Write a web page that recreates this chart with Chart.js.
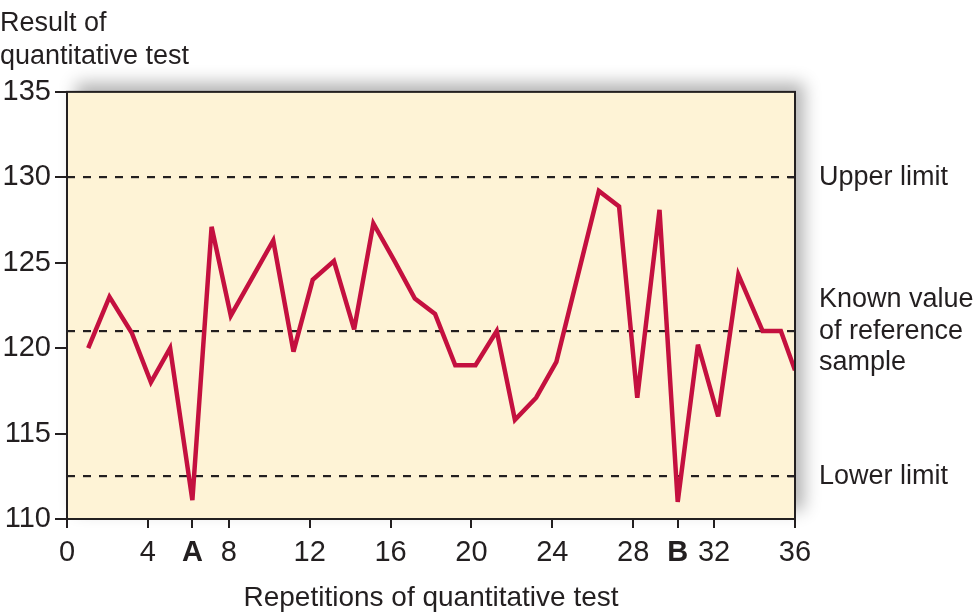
<!DOCTYPE html>
<html>
<head>
<meta charset="utf-8">
<script src="https://cdn.jsdelivr.net/npm/chart.js@4.4.1/dist/chart.umd.min.js"></script>
<style>
  html, body { margin: 0; padding: 0; background: #ffffff; }
</style>
</head>
<body>
<canvas id="c" width="976" height="615"></canvas>
<script>
// ---- data ----
const repetitions = [1.05, 2.1, 3.2, 4.15, 5.1, 6.2, 7.15, 8.1, 9.15, 10.2, 11.2, 12.15, 13.2, 14.2, 15.15, 16.2, 17.2, 18.2,
                     19.2, 20.2, 21.25, 22.15, 23.2, 24.2, 25.25, 26.3, 27.3, 28.2, 29.3, 30.2, 31.2, 32.2, 33.2, 34.4, 35.3, 36];
const results = [120, 123, 120.9, 118, 120, 111.1, 127.1, 121.9, 124.1, 126.3, 119.8, 124, 125.1, 121.1, 127.3, 125.1, 122.9, 122,
                 119, 119, 121, 115.8, 117.1, 119.2, 124.2, 129.2, 128.3, 117.1, 128.1, 111, 120.2, 116, 124.3, 121, 121, 118.7];
const xTickValues = [0, 4, 6.2, 8, 12, 16, 20, 24, 28, 30.2, 32, 36];
const xTickLabels = ['0', '4', 'A', '8', '12', '16', '20', '24', '28', 'B', '32', '36'];
const yTickValues = [110, 115, 120, 125, 130, 135];
const limitValues = [130, 121, 112.5];
const limitLabels = [['Upper limit'], ['Known value', 'of reference', 'sample'], ['Lower limit']];
const yTitle = ['Result of', 'quantitative test'];
const xTitle = 'Repetitions of quantitative test';

const FONT = '"Liberation Sans", Arial, sans-serif';
const INK = '#231f20';
const CREAM = '#fef3d6';
const RED = '#c4103f';

const frame = {
  id: 'frame',
  beforeDraw(chart) {
    const { ctx, chartArea: a } = chart;
    ctx.save();
    ctx.shadowColor = 'rgba(0,0,0,0.3)';
    ctx.shadowBlur = 16;
    ctx.shadowOffsetX = 9;
    ctx.shadowOffsetY = -9;
    ctx.fillStyle = CREAM;
    ctx.fillRect(a.left, a.top, a.right - a.left, a.bottom - a.top);
    ctx.restore();
  },
  beforeDatasetsDraw(chart) {
    chart.ctx.miterLimit = 4;
  },
  afterDraw(chart) {
    const { ctx, chartArea: a } = chart;
    ctx.save();
    ctx.strokeStyle = INK;
    ctx.lineWidth = 2;
    ctx.strokeRect(a.left, a.top, a.right - a.left, a.bottom - a.top);
    // inward tick marks on the right border
    const y2 = chart.scales.y2;
    ctx.beginPath();
    limitValues.forEach(v => {
      const y = y2.getPixelForValue(v);
      ctx.moveTo(a.right - 7, y);
      ctx.lineTo(a.right, y);
    });
    ctx.stroke();
    ctx.restore();
  }
};

new Chart(document.getElementById('c'), {
  type: 'line',
  data: {
    datasets: [{
      data: repetitions.map((x, i) => ({ x: x, y: results[i] })),
      borderColor: RED,
      borderWidth: 4.5,
      borderJoinStyle: 'miter',
      pointRadius: 0,
      tension: 0,
      fill: false
    }]
  },
  options: {
    responsive: false,
    animation: false,
    devicePixelRatio: 1,
    layout: { padding: { left: 0, right: 0, top: 0, bottom: 0 } },
    plugins: {
      legend: { display: false },
      tooltip: { enabled: false },
      title: {
        display: true,
        text: yTitle,
        align: 'start',
        color: INK,
        font: { family: FONT, size: 27, weight: 'normal', lineHeight: 1.22 },
        padding: { top: 7, bottom: 19 }
      }
    },
    scales: {
      x: {
        type: 'linear',
        min: 0,
        max: 36,
        afterBuildTicks: s => { s.ticks = xTickValues.map(v => ({ value: v })); },
        afterFit: s => { s.height = 96; },
        ticks: {
          autoSkip: false,
          maxRotation: 0,
          color: INK,
          padding: 8,
          callback: (v, i) => xTickLabels[i],
          font: c => ({ family: FONT, size: 29, weight: (xTickLabels[c.index] === 'A' || xTickLabels[c.index] === 'B') ? 'bold' : 'normal' })
        },
        grid: { drawOnChartArea: false, drawTicks: true, tickLength: 9, color: INK, lineWidth: 2 },
        border: { display: false },
        title: { display: true, text: xTitle, color: INK, font: { family: FONT, size: 28 }, padding: { top: 4, bottom: 0 } }
      },
      y: {
        position: 'left',
        min: 110,
        max: 135,
        afterBuildTicks: s => { s.ticks = yTickValues.map(v => ({ value: v })); },
        afterFit: s => { s.width = 67; },
        ticks: { color: INK, padding: 4, font: { family: FONT, size: 29 } },
        grid: { drawOnChartArea: false, drawTicks: true, tickLength: 12, color: INK, lineWidth: 2 },
        border: { display: false }
      },
      y2: {
        position: 'right',
        min: 110,
        max: 135,
        afterBuildTicks: s => { s.ticks = limitValues.map(v => ({ value: v })); },
        afterFit: s => { s.width = 181; },
        ticks: {
          color: INK,
          padding: 24,
          crossAlign: 'near',
          callback: (v, i) => limitLabels[i],
          font: { family: FONT, size: 27, lineHeight: 1.18 }
        },
        grid: { drawOnChartArea: true, drawTicks: false, color: INK, lineWidth: 2.2 },
        border: { display: false, dash: [8, 8] }
      }
    }
  },
  plugins: [frame]
});
</script>
</body>
</html>
